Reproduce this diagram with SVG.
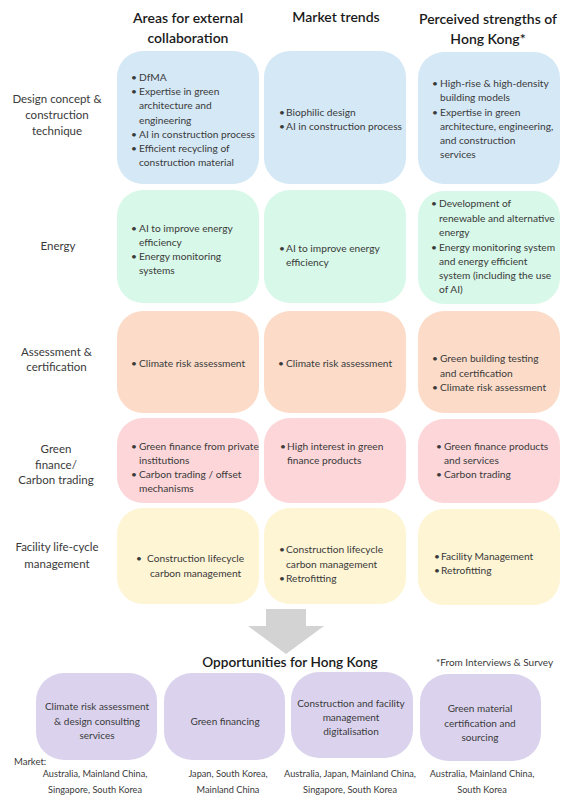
<svg xmlns="http://www.w3.org/2000/svg" width="563" height="797" viewBox="0 0 563 797">
<style>
text{font-family:Lato,"Open Sans","Liberation Sans",sans-serif;fill:#3a3a3a;}
.h{font-size:14px;font-weight:600;text-anchor:middle;fill:#1a1a1a;}
.lbl{font-size:11.5px;text-anchor:middle;}
.b{font-size:10.2px;}
.c{font-size:10px;text-anchor:middle;}
.m{font-size:9.2px;text-anchor:middle;}
.r1{fill:#d5e8f6;}
.r2{fill:#d8f8e9;}
.r3{fill:#fcdcc9;}
.r4{fill:#fdd6d9;}
.r5{fill:#fef5d5;}
.p{fill:#dbd3ee;}
</style>
<g id="headers">
<text class="h" x="188" y="23">Areas for external</text>
<text class="h" x="188" y="43">collaboration</text>
<text class="h" x="336" y="22">Market trends</text>
<text class="h" x="488" y="24">Perceived strengths of</text>
<text class="h" x="488" y="44">Hong Kong*</text>
</g>
<g id="row-labels">
<text class="lbl" x="57" y="103">Design concept &amp;</text>
<text class="lbl" x="57" y="119">construction</text>
<text class="lbl" x="57" y="135">technique</text>
<text class="lbl" x="58" y="250">Energy</text>
<text class="lbl" x="56.5" y="355.5">Assessment &amp;</text>
<text class="lbl" x="56.5" y="371">certification</text>
<text class="lbl" x="56" y="453">Green</text>
<text class="lbl" x="56" y="469">finance/</text>
<text class="lbl" x="56" y="484">Carbon trading</text>
<text class="lbl" x="57" y="551">Facility life-cycle</text>
<text class="lbl" x="57" y="568">management</text>
</g>
<g id="r1c1"><rect class="r1" x="117" y="51" width="142" height="133" rx="26"/>
<text class="b" x="131" y="81">•</text><text class="b" x="139" y="81">DfMA</text>
<text class="b" x="131" y="95">•</text><text class="b" x="139" y="95">Expertise in green</text>
<text class="b" x="139" y="109">architecture and</text>
<text class="b" x="139" y="123.5">engineering</text>
<text class="b" x="131" y="137.5">•</text><text class="b" x="139" y="137.5">AI in construction process</text>
<text class="b" x="131" y="152">•</text><text class="b" x="139" y="152">Efficient recycling of</text>
<text class="b" x="139" y="166">construction material</text>
</g>
<g id="r1c2"><rect class="r1" x="264" y="51" width="142" height="133" rx="26"/>
<text class="b" x="279" y="115.5">•</text><text class="b" x="286" y="115.5">Biophilic design</text>
<text class="b" x="279" y="130">•</text><text class="b" x="286" y="130">AI in construction process</text>
</g>
<g id="r1c3"><rect class="r1" x="418" y="52" width="142" height="132" rx="26"/>
<text class="b" x="432" y="87">•</text><text class="b" x="440" y="87">High-rise &amp; high-density</text>
<text class="b" x="440" y="101">building models</text>
<text class="b" x="432" y="115.5">•</text><text class="b" x="440" y="115.5">Expertise in green</text>
<text class="b" x="440" y="130">architecture, engineering,</text>
<text class="b" x="440" y="144">and construction</text>
<text class="b" x="440" y="158">services</text>
</g>
<g id="r2c1"><rect class="r2" x="117" y="190" width="142" height="113" rx="26"/>
<text class="b" x="131" y="231.5">•</text><text class="b" x="139" y="231.5">AI to improve energy</text>
<text class="b" x="139" y="245.5">efficiency</text>
<text class="b" x="131" y="260">•</text><text class="b" x="139" y="260">Energy monitoring</text>
<text class="b" x="139" y="273.5">systems</text>
</g>
<g id="r2c2"><rect class="r2" x="264" y="190" width="142" height="113" rx="26"/>
<text class="b" x="279" y="252">•</text><text class="b" x="286" y="252">AI to improve energy</text>
<text class="b" x="286" y="266">efficiency</text>
</g>
<g id="r2c3"><rect class="r2" x="418" y="191" width="142" height="113" rx="26"/>
<text class="b" x="431" y="207">•</text><text class="b" x="439" y="207">Development of</text>
<text class="b" x="439" y="221.5">renewable and alternative</text>
<text class="b" x="439" y="236">energy</text>
<text class="b" x="431" y="250.5">•</text><text class="b" x="439" y="250.5">Energy monitoring system</text>
<text class="b" x="439" y="264.5">and energy efficient</text>
<text class="b" x="439" y="279">system (including the use</text>
<text class="b" x="439" y="293">of AI)</text>
</g>
<g id="r3c1"><rect class="r3" x="117" y="311" width="142" height="102" rx="26"/>
<text class="b" x="131" y="367">•</text><text class="b" x="139" y="367">Climate risk assessment</text>
</g>
<g id="r3c2"><rect class="r3" x="264" y="311" width="142" height="102" rx="26"/>
<text class="b" x="278" y="367">•</text><text class="b" x="286" y="367">Climate risk assessment</text>
</g>
<g id="r3c3"><rect class="r3" x="418" y="311" width="142" height="102" rx="26"/>
<text class="b" x="432" y="362">•</text><text class="b" x="440" y="362">Green building testing</text>
<text class="b" x="440" y="376.5">and certification</text>
<text class="b" x="432" y="390.5">•</text><text class="b" x="440" y="390.5">Climate risk assessment</text>
</g>
<g id="r4c1"><rect class="r4" x="117" y="418" width="142" height="85" rx="26"/>
<text class="b" x="131" y="450">•</text><text class="b" x="139" y="450">Green finance from private</text>
<text class="b" x="139" y="464">institutions</text>
<text class="b" x="131" y="478">•</text><text class="b" x="139" y="478">Carbon trading / offset</text>
<text class="b" x="139" y="492">mechanisms</text>
</g>
<g id="r4c2"><rect class="r4" x="264" y="418" width="142" height="85" rx="26"/>
<text class="b" x="280" y="450">•</text><text class="b" x="287" y="450">High interest in green</text>
<text class="b" x="287" y="464">finance products</text>
</g>
<g id="r4c3"><rect class="r4" x="418" y="419" width="142" height="84" rx="26"/>
<text class="b" x="436" y="450">•</text><text class="b" x="444" y="450">Green finance products</text>
<text class="b" x="444" y="464">and services</text>
<text class="b" x="436" y="478">•</text><text class="b" x="444" y="478">Carbon trading</text>
</g>
<g id="r5c1"><rect class="r5" x="117" y="508" width="142" height="96" rx="26"/>
<text class="b" x="136" y="561.5">•</text><text class="b" x="147" y="561.5">Construction lifecycle</text>
<text class="b" x="150" y="576.5">carbon management</text>
</g>
<g id="r5c2"><rect class="r5" x="264" y="508" width="142" height="96" rx="26"/>
<text class="b" x="279" y="553">•</text><text class="b" x="286" y="553">Construction lifecycle</text>
<text class="b" x="286" y="568">carbon management</text>
<text class="b" x="279" y="581.5">•</text><text class="b" x="286" y="581.5">Retrofitting</text>
</g>
<g id="r5c3"><rect class="r5" x="418" y="509" width="142" height="96" rx="26"/>
<text class="b" x="434" y="559.5">•</text><text class="b" x="441" y="559.5">Facility Management</text>
<text class="b" x="434" y="574">•</text><text class="b" x="441" y="574">Retrofitting</text>
</g>
<g id="connectors">
<polygon points="266,609 306,609 306,626 324,626 286,654 248,626 266,626" fill="#d3d3d3"/>
</g>
<g id="opportunities-title">
<text x="290" y="667" style="font-size:13.6px;font-weight:600;text-anchor:middle;fill:#1a1a1a">Opportunities for Hong Kong</text>
<text x="436" y="666" style="font-size:10px">*From Interviews &amp; Survey</text>
</g>
<g id="o1"><rect class="p" x="36" y="673" width="121" height="87" rx="28"/>
<text class="c" x="97" y="710">Climate risk assessment</text>
<text class="c" x="97" y="724.5">&amp;  design consulting</text>
<text class="c" x="97" y="738.5">services</text>
</g>
<g id="o2"><rect class="p" x="164" y="673" width="121" height="87" rx="28"/>
<text class="c" x="225" y="724.5">Green financing</text>
</g>
<g id="o3"><rect class="p" x="291" y="672" width="122" height="86" rx="28"/>
<text class="c" x="351" y="706.5">Construction and facility</text>
<text class="c" x="351" y="720.5">management</text>
<text class="c" x="351" y="734.5">digitalisation</text>
</g>
<g id="o4"><rect class="p" x="420" y="674" width="121" height="87" rx="28"/>
<text class="c" x="480" y="712">Green material</text>
<text class="c" x="480" y="727">certification and</text>
<text class="c" x="480" y="741">sourcing</text>
</g>
<g id="markets">
<text x="14" y="765" style="font-size:9.5px">Market:</text>
<text class="m" x="95" y="776.5">Australia, Mainland China,</text>
<text class="m" x="95" y="792.5">Singapore, South Korea</text>
<text class="m" x="228" y="776.5">Japan, South Korea,</text>
<text class="m" x="228" y="792.5">Mainland China</text>
<text class="m" x="350" y="776.5">Australia, Japan, Mainland China,</text>
<text class="m" x="350" y="792.5">Singapore, South Korea</text>
<text class="m" x="482" y="776.5">Australia, Mainland China,</text>
<text class="m" x="482" y="792.5">South Korea</text>
</g>
</svg>
